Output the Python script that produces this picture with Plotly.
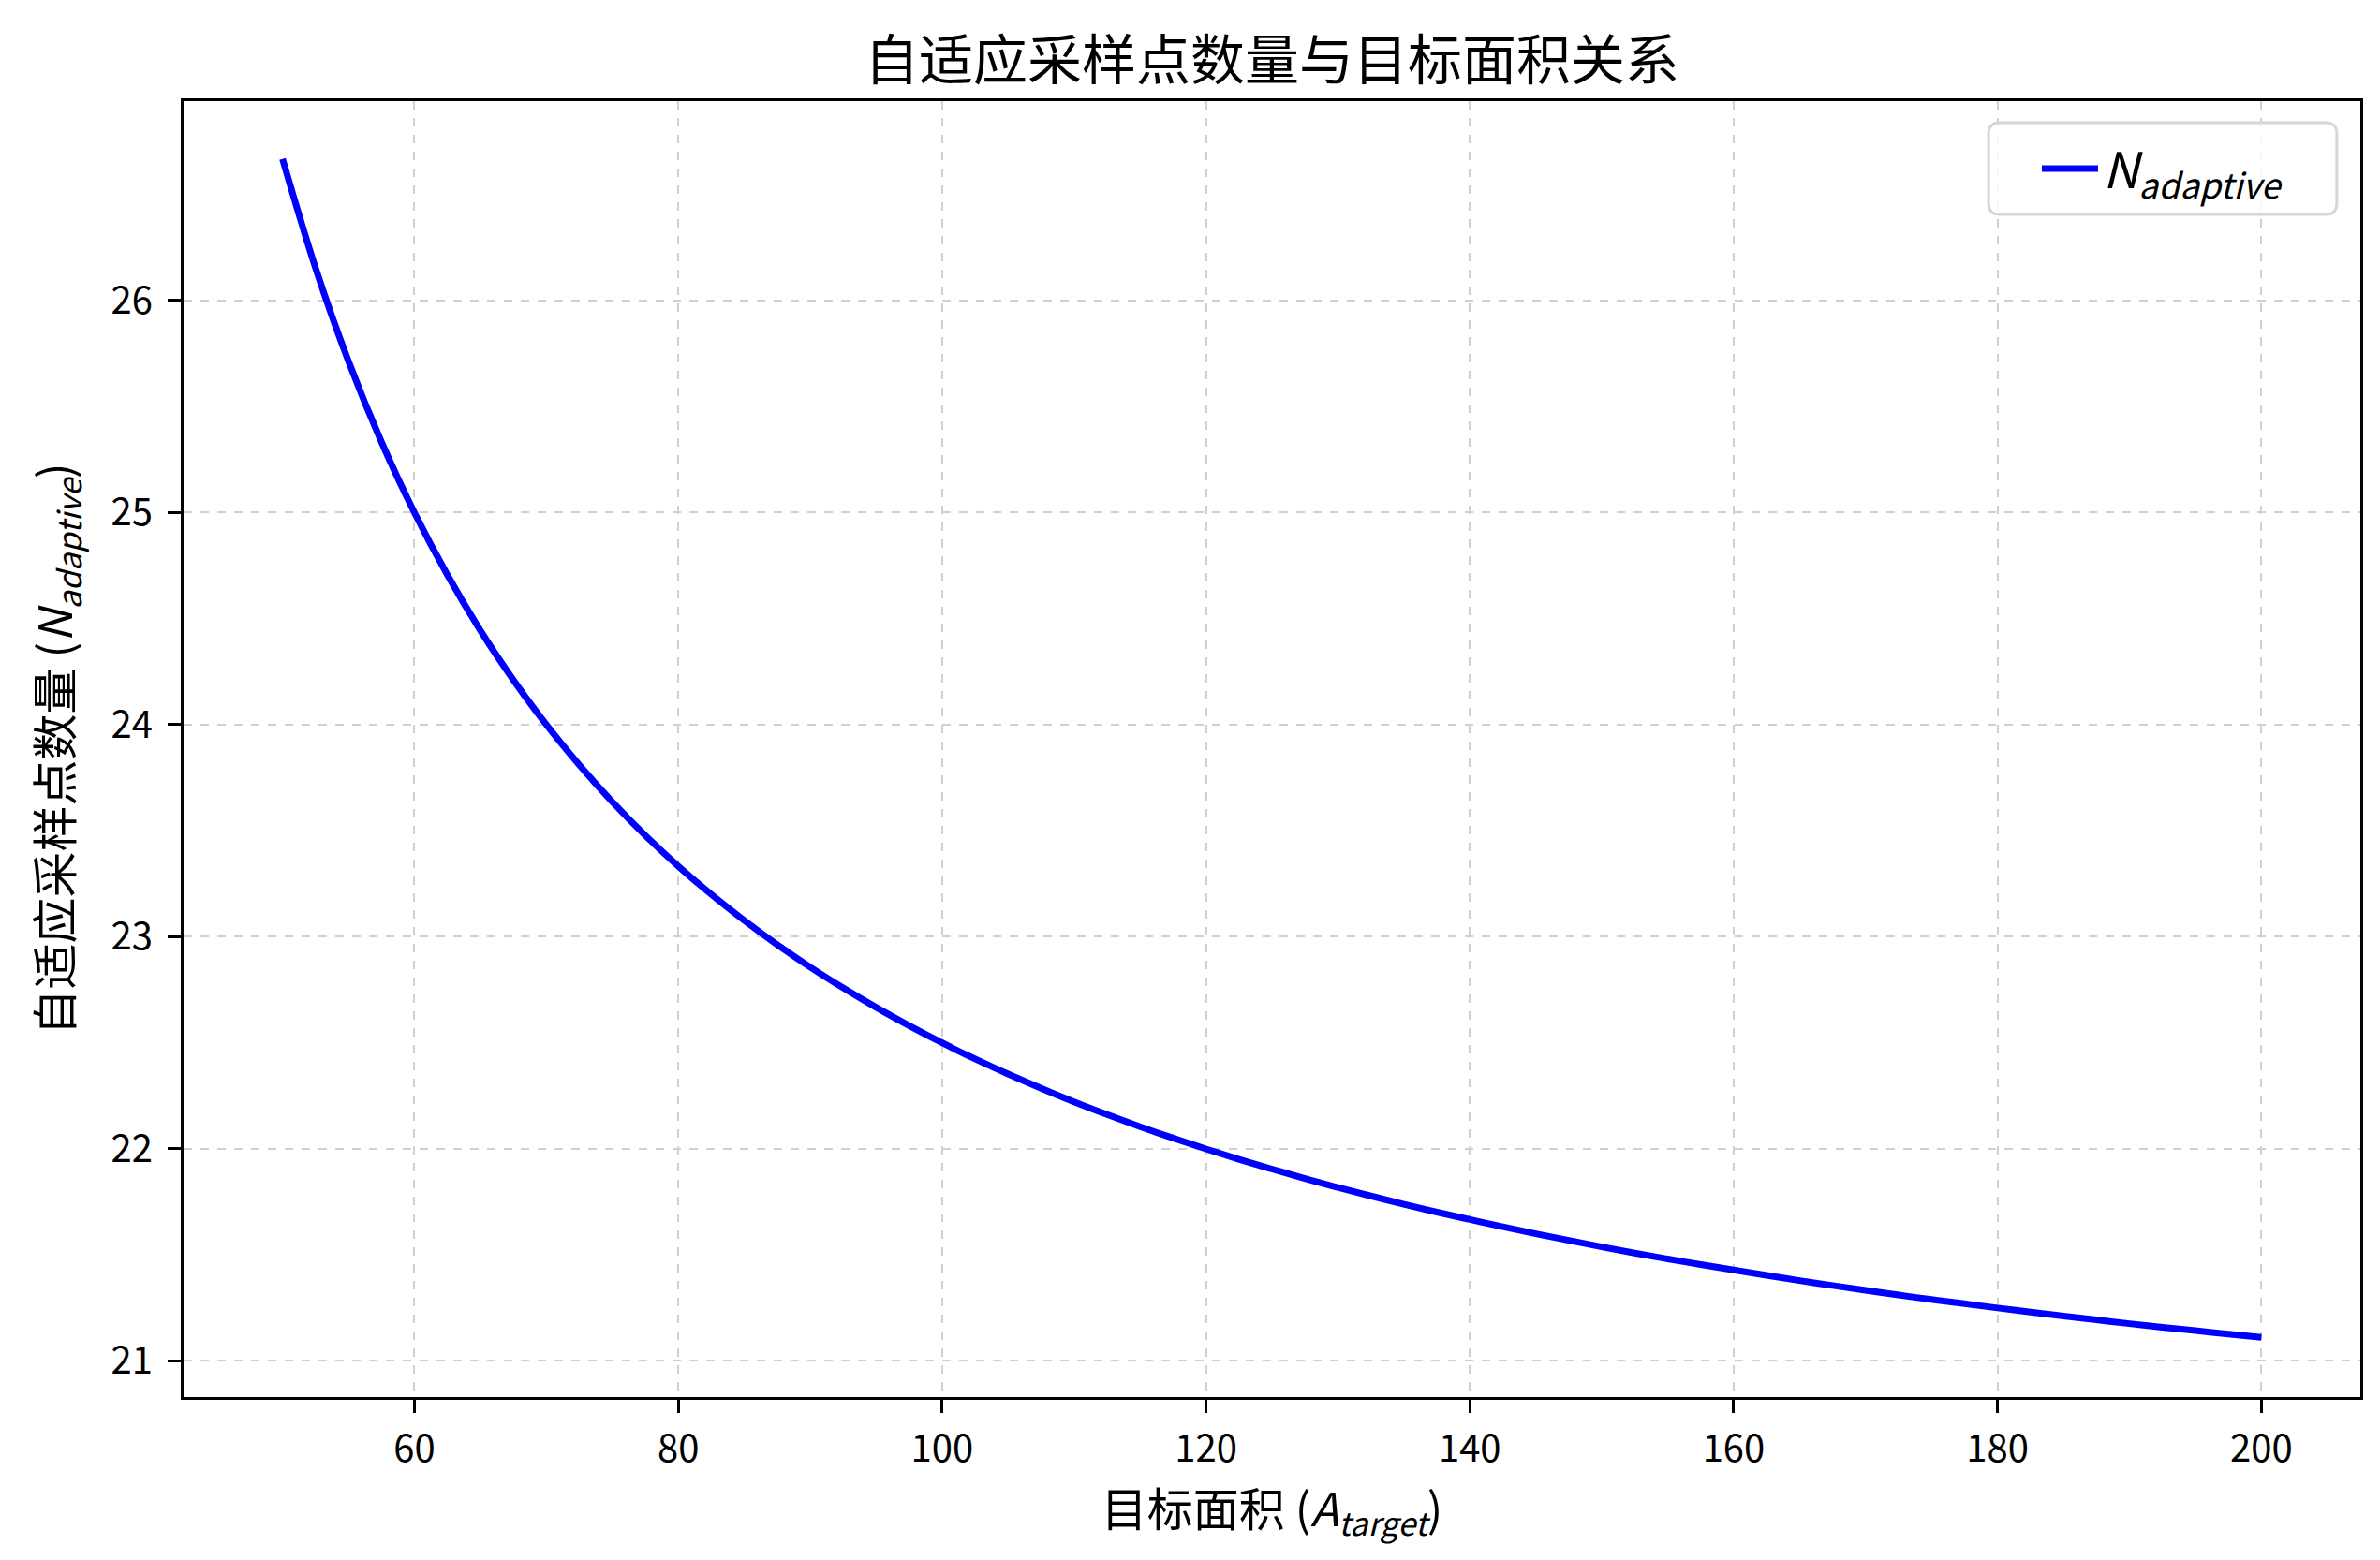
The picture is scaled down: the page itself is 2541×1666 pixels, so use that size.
import plotly.graph_objects as go

# target area values
area = [50, 52.5, 55, 57.5, 60, 62.5, 65, 67.5, 70, 72.5, 75, 77.5, 80, 82.5, 85,
        87.5, 90, 92.5, 95, 97.5, 100, 102.5, 105, 107.5, 110, 112.5, 115, 117.5,
        120, 122.5, 125, 127.5, 130, 132.5, 135, 137.5, 140, 142.5, 145, 147.5,
        150, 152.5, 155, 157.5, 160, 162.5, 165, 167.5, 170, 172.5, 175, 177.5,
        180, 182.5, 185, 187.5, 190, 192.5, 195, 197.5, 200]
# adaptive sample count
n_adaptive = [26.667, 26.154, 25.714, 25.333, 25.000, 24.706, 24.444, 24.211,
              24.000, 23.810, 23.636, 23.478, 23.333, 23.200, 23.077, 22.963,
              22.857, 22.759, 22.667, 22.581, 22.500, 22.424, 22.353, 22.286,
              22.222, 22.162, 22.105, 22.051, 22.000, 21.951, 21.905, 21.860,
              21.818, 21.778, 21.739, 21.702, 21.667, 21.633, 21.600, 21.569,
              21.538, 21.509, 21.481, 21.455, 21.429, 21.404, 21.379, 21.356,
              21.333, 21.311, 21.290, 21.270, 21.250, 21.231, 21.212, 21.194,
              21.176, 21.159, 21.143, 21.127, 21.111]

x_ticks = [60, 80, 100, 120, 140, 160, 180, 200]
y_ticks = [21, 22, 23, 24, 25, 26]

font_name = "Noto Sans CJK SC"
n_label = "<i>N</i><sub><i>adaptive</i></sub>"

fig = go.Figure()
fig.add_trace(go.Scatter(
    x=area, y=n_adaptive, mode="lines", name=n_label,
    line=dict(color="blue", width=7, shape="spline", smoothing=1.0),
))

axis_common = dict(
    showline=True, linecolor="black", linewidth=3, mirror=True,
    ticks="outside", ticklen=14, tickwidth=3, tickcolor="black",
    showgrid=True, gridcolor="#d0d0d0", gridwidth=2, griddash="dash",
    zeroline=False, automargin=False,
    tickfont=dict(family=font_name, size=40, color="black"),
)

fig.update_xaxes(
    range=[42.5, 207.5], tickvals=x_ticks, ticklabelstandoff=4,
    title=dict(text="目标面积 (<i>A</i><sub><i>target</i></sub>)",
               font=dict(family=font_name, size=49, color="black"), standoff=18),
    **axis_common,
)
fig.update_yaxes(
    range=[20.83, 26.94], tickvals=y_ticks, ticklabelstandoff=8,
    title=dict(text="自适应采样点数量 (" + n_label + ")",
               font=dict(family=font_name, size=49, color="black"), standoff=26),
    **axis_common,
)

# rounded legend frame (matplotlib style), in paper coordinates
lx0, lx1, ly0, ly1 = 0.8292, 0.9892, 0.9126, 0.9834
rx, ry = 0.0052, 0.0087
frame = (f"M{lx0 + rx},{ly0} L{lx1 - rx},{ly0} Q{lx1},{ly0} {lx1},{ly0 + ry} "
         f"L{lx1},{ly1 - ry} Q{lx1},{ly1} {lx1 - rx},{ly1} "
         f"L{lx0 + rx},{ly1} Q{lx0},{ly1} {lx0},{ly1 - ry} "
         f"L{lx0},{ly0 + ry} Q{lx0},{ly0} {lx0 + rx},{ly0} Z")

fig.update_layout(
    width=2541, height=1666,
    margin=dict(l=188, r=29, t=100, b=182),
    paper_bgcolor="white", plot_bgcolor="white",
    title=dict(text="自适应采样点数量与目标面积关系", x=0.5, xref="paper",
               y=1 - 57 / 1666, yanchor="middle",
               font=dict(family=font_name, size=58, color="black")),
    shapes=[dict(type="path", path=frame, xref="paper", yref="paper",
                 fillcolor="rgba(255,255,255,0.8)",
                 line=dict(color="#d6d6d6", width=3), layer="above")],
    legend=dict(x=(lx0 + lx1) / 2, y=(ly0 + ly1) / 2, xanchor="center", yanchor="middle",
                bgcolor="rgba(0,0,0,0)", borderwidth=0, itemwidth=60,
                font=dict(family=font_name, size=53, color="black")),
    showlegend=True,
)

fig.write_html("out.html")
